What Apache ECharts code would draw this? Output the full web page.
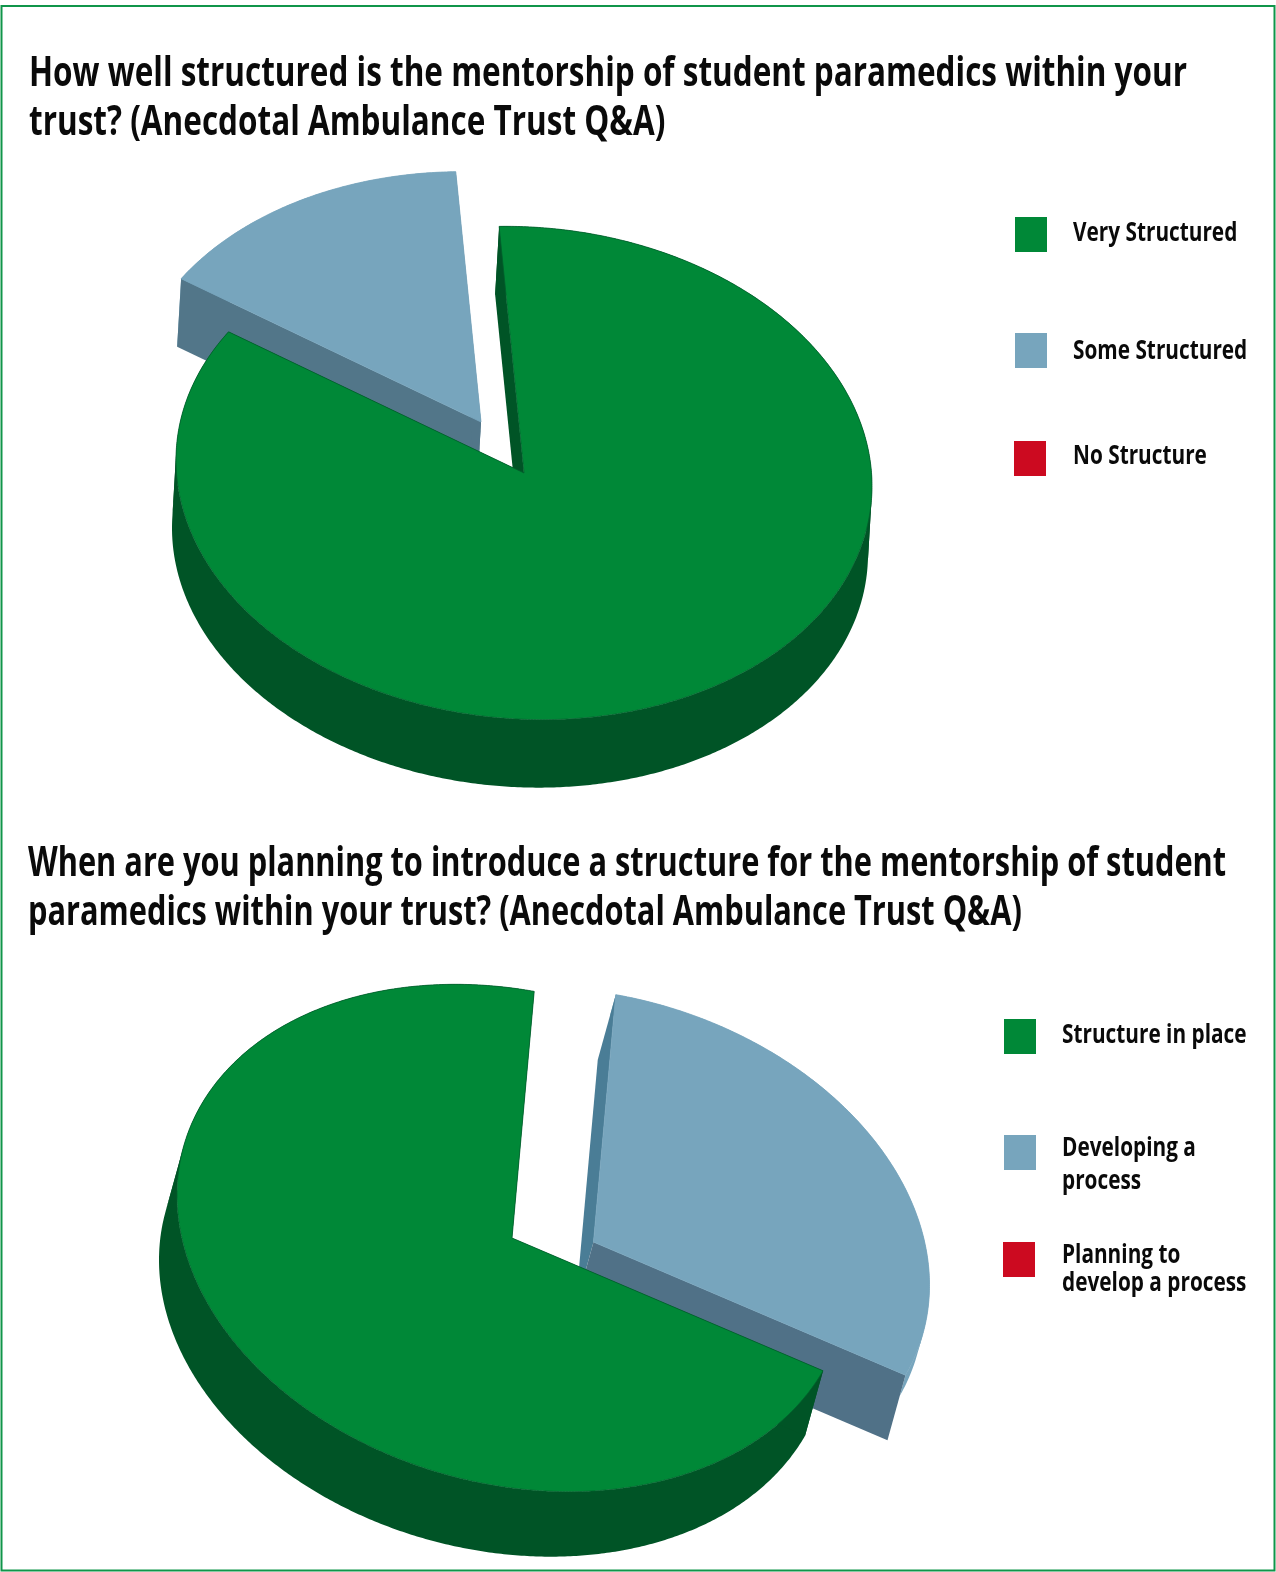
<!DOCTYPE html>
<html>
<head>
<meta charset="utf-8">
<style>html,body{margin:0;padding:0;background:#fff}#c{width:1276px;height:1572px}</style>
<script src="https://cdn.jsdelivr.net/npm/echarts@6/dist/echarts.min.js"></script>
</head>
<body>
<div id="c"></div>
<script>
var title1 = "How well structured is the mentorship of student paramedics within your\ntrust? (Anecdotal Ambulance Trust Q&A)";
var title2 = "When are you planning to introduce a structure for the mentorship of student\nparamedics within your trust? (Anecdotal Ambulance Trust Q&A)";
var names1 = ["Very Structured", "Some Structured", "No Structure"];
var values1 = [85, 15, 0];
var names2 = ["Structure in place", "Developing a\nprocess", "Planning to\ndevelop a process"];
var values2 = [70, 30, 0];

var GREEN = "#008837", BLUE = "#77a5bd", RED = "#cc0a20";
var FONT = "'Open Sans',sans-serif";
var INK = "#0a0a0a";

var DG = "#005426";
var pie1 = {cx:524, cy:473, rx:348, sh:13, e:246.3, start:-4.1, depth:[-4,68],
  offsets:[[0,0],[-43,-51],[0,0]], grow:[1,1.015,1], outerDepth:[1,1,1],
  skins:[{top:GREEN,stroke:"#00602c",outer:DG,a:DG,b:DG},
         {top:BLUE,stroke:BLUE,outer:BLUE,a:"#527689",b:"#527689"},
         {top:RED,stroke:RED,outer:RED,a:RED,b:RED}]};
var pie2 = {cx:512, cy:1238, rx:335, sh:43, e:250, start:111.8, depth:[-18,65],
  offsets:[[0,0],[81.5,4],[0,0]], grow:[1,1.003,1], outerDepth:[1,0.32,1],
  skins:[{top:GREEN,stroke:"#00602c",outer:DG,a:DG,b:DG},
         {top:BLUE,stroke:BLUE,outer:BLUE,a:"#4a7d96",b:"#507187"},
         {top:RED,stroke:RED,outer:RED,a:RED,b:RED}]};

function sliceAngles(values, start){
  var sum = values.reduce(function(a,b){return a+b;},0), cur = start;
  return values.map(function(v){var s=cur; cur += v/sum*360; return [s,cur];});
}
function makeSeries(names, values, pie, order){
  var ang = sliceAngles(values, pie.start);
  return order.map(function(i){
    return {
      type:"custom", name:names[i], coordinateSystem:"none", silent:true, animation:false,
      itemStyle:{color:pie.skins[i].top}, data:[[values[i]]],
      renderItem:function(){
        if(!values[i]) return {type:"group",children:[]};
        var o = pie.offsets[i], d = pie.depth, sk = pie.skins[i], g = pie.grow[i], od = pie.outerDepth[i];
        var C = [pie.cx+o[0], pie.cy+o[1]];
        function pt(deg){var t=deg*Math.PI/180,s=Math.sin(t),c=Math.cos(t);
          return [C[0]+g*pie.rx*s, C[1]+g*(pie.sh*s-pie.e*c)];}
        function dn(p,f){f=f||1;return [p[0]+d[0]*f,p[1]+d[1]*f];}
        var arc=[], a0=ang[i][0], a1=ang[i][1], n=Math.ceil((a1-a0)*2);
        for(var k=0;k<=n;k++) arc.push(pt(a0+(a1-a0)*k/n));
        var p0=arc[0], p1=arc[n];
        function poly(points,fill,stroke,w){return {type:"polygon",shape:{points:points},
          style:{fill:fill,stroke:stroke||null,lineWidth:w||0}};}
        // split the rim where the extrusion runs tangent to the edge, so each piece is one simple shape
        var kids=[], from=0, prev=null;
        function rim(a,b){
          var pts=arc.slice(a,b+1);
          kids.push(poly(pts.concat(pts.map(function(p){return dn(p,od);}).reverse()),sk.outer));
        }
        for(var j=0;j<n;j++){
          var cr=(arc[j+1][0]-arc[j][0])*d[1]-(arc[j+1][1]-arc[j][1])*d[0];
          var sg=cr>=0;
          if(prev!==null && sg!==prev){rim(from,j);from=j;}
          prev=sg;
        }
        rim(from,n);
        kids.push(poly([C,p0,dn(p0),dn(C)],sk.a));
        kids.push(poly([C,p1,dn(p1),dn(C)],sk.b));
        kids.push(poly([C].concat(arc),sk.top,sk.stroke,0.8));
        return {type:"group",children:kids};
      }
    };
  });
}
function swatch(name,left,top){
  return {show:true,data:[name],left:left,top:top,orient:"vertical",icon:"rect",
    itemWidth:32,itemHeight:35,selectedMode:false,padding:0,itemGap:0,
    formatter:function(){return "";}};
}
function label(text,x,y,size,lh,sx){
  return {type:"text",x:x,y:y,scaleX:sx,silent:true,
    style:{text:text,fill:INK,font:"bold "+size+"px "+FONT,lineHeight:lh,textAlign:"left",textVerticalAlign:"top"}};
}
var LSX = 0.77;
var option = {
  backgroundColor:"#fff", animation:false,
  legend:[
    swatch(names1[0],1015,217),
    swatch(names1[1],1015,333),
    swatch(names1[2],1014,441),
    swatch(names2[0],1004,1019),
    swatch(names2[1],1004,1135),
    swatch(names2[2],1003,1242)
  ],
  graphic:[
    {type:"rect",z:-1,shape:{x:1.5,y:6,width:1273,height:1564.5},style:{fill:"none",stroke:"#10954a",lineWidth:2}},
    label(title1,29,50,41,49,0.768),
    label(title2,28,840,41,49,0.75),
    label(names1[0],1073,216,27,34,LSX),
    label(names1[1],1073,334,27,34,LSX),
    label(names1[2],1073,439,27,34,LSX),
    label(names2[0],1062,1018,27,34,LSX),
    label(names2[1],1062,1132,27,33,LSX),
    label(names2[2],1062,1242,27,27.5,LSX)
  ],
  series:makeSeries(names1,values1,pie1,[1,0,2]).concat(makeSeries(names2,values2,pie2,[1,0,2]))
};
var chart = echarts.init(document.getElementById("c"),null,{renderer:"canvas"});
chart.setOption(option);
</script>
</body>
</html>
